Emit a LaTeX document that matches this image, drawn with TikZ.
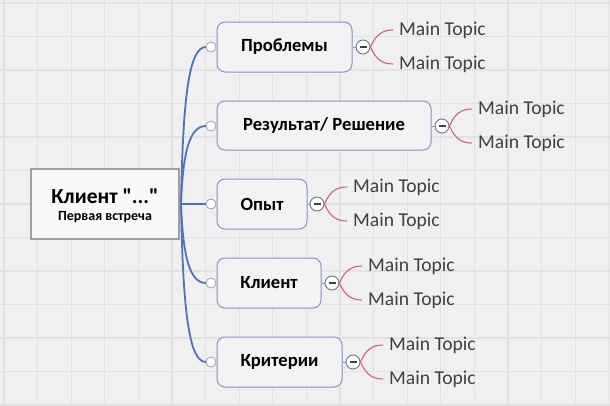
\documentclass[tikz,border=0pt]{standalone}
\usepackage{fontspec}
\setmainfont{Carlito}[Ligatures=TeXOff]
\definecolor{bgc}{HTML}{F0F0F0}
\definecolor{gridc}{HTML}{E2E2E2}
\definecolor{branchc}{HTML}{4F72BD}
\definecolor{topicb}{HTML}{7F95C6}
\definecolor{topicf}{HTML}{F3F3F5}
\definecolor{forkc}{HTML}{D9606A}
\definecolor{subtc}{HTML}{404040}
\definecolor{centb}{HTML}{A0A0A0}
\begin{document}
\begin{tikzpicture}[x=1pt,y=-1pt,
  topicbox/.style={draw=topicb,line width=1pt,fill=topicf,rounded corners=8pt,inner sep=0pt,
     font=\fontsize{18.6}{20}\selectfont\bfseries},
  centbox/.style={draw=centb,line width=1.2pt,fill=white!50!bgc,inner sep=0pt},
  branch/.style={draw=branchc,line width=1.8pt},
  fork/.style={draw=forkc,line width=1.1pt},
  knob/.style={circle,draw=centb,fill=white,line width=0.8pt,minimum size=10pt,inner sep=0pt},
  minusknob/.style={circle,draw=topicb!80!black,fill=white,line width=0.9pt,minimum size=14pt,inner sep=0pt},
  sub/.style={anchor=west,inner sep=0pt,text=subtc,font=\fontsize{19.6}{21}\selectfont}
]
\useasboundingbox (0,0) rectangle (610,405);
\fill[bgc] (0,0) rectangle (610,405);
\foreach \i in {0,...,18} {\draw[gridc,line width=1.3pt] ({4+33.6*\i},0) -- ({4+33.6*\i},405);}
\foreach \j in {0,...,12} {\draw[gridc,line width=1.3pt] (0,{3+33.5*\j}) -- (610,{3+33.5*\j});}

% central topic
\node[centbox,minimum width=148pt,minimum height=70pt] (c) at (105,204) {};
\node[inner sep=0pt,font=\fontsize{21.5}{23}\selectfont\bfseries] (ct) at (105,196) {Клиент "..."};
\node[inner sep=0pt,font=\fontsize{14}{16}\selectfont\bfseries] (cs) at (105,217) {Первая встреча};
\coordinate (root) at (181,204);

% topics
\node[topicbox,minimum width=135pt,minimum height=50pt] (t1) at (284.5,47) {Проблемы};
\node[topicbox,minimum width=214pt,minimum height=49pt] (t2) at (324,125.5) {Результат/ Решение};
\node[topicbox,minimum width=90pt,minimum height=50pt] (t3) at (262,204) {Опыт};
\node[topicbox,minimum width=104pt,minimum height=50pt] (t4) at (269,283) {Клиент};
\node[topicbox,minimum width=125pt,minimum height=50pt] (t5) at (279.5,362) {Критерии};

% branches
\draw[branch] (root) .. controls (183,90) and (190,47) .. (206,47) coordinate (e1);
\draw[branch] (root) .. controls (183,150) and (190,126) .. (206,126) coordinate (e2);
\draw[branch] (root) -- (206,204) coordinate (e3);
\draw[branch] (root) .. controls (183,258) and (190,283) .. (206,283) coordinate (e4);
\draw[branch] (root) .. controls (183,318) and (190,362) .. (206,362) coordinate (e5);
\draw[branch] (c.east) -- (root);

\node[knob] (k1) at (211,47) {};
\node[knob] (k2) at (211,126) {};
\node[knob] (k3) at (211,204) {};
\node[knob] (k4) at (211,283) {};
\node[knob] (k5) at (211,362) {};

% minus knobs and forks
\foreach \n/\cx/\cy in {1/363/47, 2/442/126, 3/317/204, 4/332/283, 5/353/362} {
  \draw[topicb,line width=1pt] (t\n.east |- 0,\cy) -- (\cx,\cy);
  \node[minusknob] (m\n) at (\cx,\cy) {};
  \draw[black!75,line width=1.3pt] ({\cx-3.5},\cy) -- ({\cx+3.5},\cy);
  \node[sub] (a\n) at ({\cx+36},{\cy-17}) {Main Topic};
  \node[sub] (b\n) at ({\cx+36},{\cy+17}) {Main Topic};
  \draw[fork] (m\n.east) .. controls ({\cx+13},{\cy-13}) and ({\cx+20},{\cy-17}) .. ({\cx+30},{\cy-17});
  \draw[fork] (m\n.east) .. controls ({\cx+13},{\cy+13}) and ({\cx+20},{\cy+17}) .. ({\cx+30},{\cy+17});
}
\end{tikzpicture}
\end{document}
